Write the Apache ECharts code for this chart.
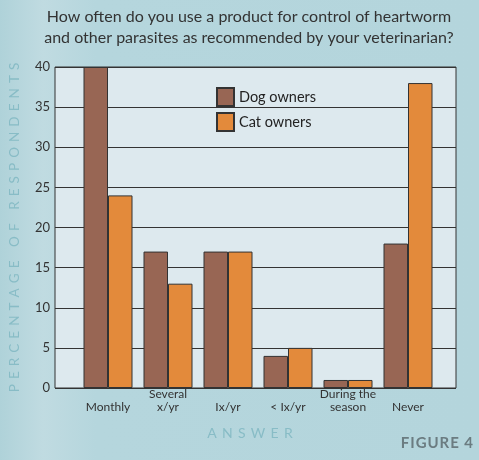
<!DOCTYPE html>
<html>
<head>
<meta charset="utf-8">
<script src="https://cdn.jsdelivr.net/npm/echarts@6/dist/echarts.min.js"></script>
<style>
html,body{margin:0;padding:0;background:#b4d6dd;}
#c{width:479px;height:460px;}
</style>
</head>
<body>
<div id="c"></div>
<script>
var categories = ['Monthly', 'Several\nx/yr', 'Ix/yr', '< Ix/yr', 'During the\nseason', 'Never'];
var dogOwners = [40, 17, 17, 4, 1, 18];
var catOwners = [24, 13, 17, 5, 1, 38];
var yTicks = [0, 5, 10, 15, 20, 25, 30, 35, 40];

function spaced(s, sep) { return s.split('').join(sep); }
var WIDE = '\u2005\u2009';

var FONT = 'Lato';
var chart = echarts.init(document.getElementById('c'));
chart.setOption({
  backgroundColor: new echarts.graphic.LinearGradient(0, 0, 1, 0, [
    {offset: 0, color: '#afd2d9'}, {offset: 0.09, color: '#c0dbe1'}, {offset: 0.2, color: '#b5d6dd'}, {offset: 1, color: '#b4d5dc'}
  ]),
  animation: false,
  textStyle: {fontFamily: FONT},
  title: {
    text: 'How often do you use a product for control of heartworm\nand other parasites as recommended by your veterinarian?',
    left: 249, top: 6, textAlign: 'center', padding: 0,
    textStyle: {fontFamily: FONT, fontSize: 16, fontWeight: 'normal', color: '#333', lineHeight: 21}
  },
  legend: {
    orient: 'vertical', left: 216, top: 87, padding: 0,
    itemWidth: 17, itemHeight: 18, itemGap: 5, icon: 'rect',
    textStyle: {fontFamily: FONT, fontSize: 14.5, color: '#222', padding: [0, 0, 0, 0]},
    data: ['Dog owners', 'Cat owners']
  },
  grid: [
    {left: 48, right: 23, top: 67, bottom: 72, show: true, backgroundColor: '#dde9ee', borderColor: '#333', borderWidth: 1},
    {left: 78, right: 41, top: 67, bottom: 72}
  ],
  xAxis: [
    {gridIndex: 0, type: 'category', data: categories, show: false},
    {gridIndex: 1, type: 'category', data: categories,
      axisLine: {show: false}, axisTick: {show: false},
      axisLabel: {interval: 0, fontFamily: FONT, fontSize: 12, color: '#333', lineHeight: 13, verticalAlign: 'bottom', margin: 26}
    }
  ],
  yAxis: [
    {gridIndex: 0, type: 'value', min: yTicks[0], max: yTicks[yTicks.length - 1], interval: 5,
      axisLine: {show: false}, axisTick: {show: false},
      axisLabel: {fontFamily: FONT, fontSize: 13, color: '#333', margin: 5},
      splitLine: {lineStyle: {color: '#333', width: 1}},
      name: spaced('PERCENTAGE OF RESPONDENTS', WIDE), nameLocation: 'middle', nameRotate: 90, nameGap: 33,
      nameTextStyle: {fontFamily: FONT, fontSize: 13.5, color: '#88bcc6'}
    },
    {gridIndex: 1, type: 'value', min: yTicks[0], max: yTicks[yTicks.length - 1], show: false}
  ],
  series: [
    {name: 'Dog owners', type: 'bar', xAxisIndex: 1, yAxisIndex: 1, data: dogOwners,
      barWidth: 24.5, barGap: '0%',
      itemStyle: {color: '#986654', borderColor: '#333', borderWidth: 1}},
    {name: 'Cat owners', type: 'bar', xAxisIndex: 1, yAxisIndex: 1, data: catOwners,
      barWidth: 24.5, barGap: '0%',
      itemStyle: {color: '#e38a3b', borderColor: '#333', borderWidth: 1}}
  ],
  graphic: [
    {type: 'text', style: {text: spaced('ANSWER', WIDE), x: 250, y: 433, fontFamily: FONT, fontSize: 14, fill: '#88bcc6', textAlign: 'center', textVerticalAlign: 'middle'}},
    {type: 'text', style: {text: spaced('FIGURE 4', '\u200A'), x: 473, y: 443, fontFamily: FONT, fontSize: 15, fontWeight: 'bold', fill: '#6b7c81', textAlign: 'right', textVerticalAlign: 'middle'}}
  ]
});
</script>
</body>
</html>
